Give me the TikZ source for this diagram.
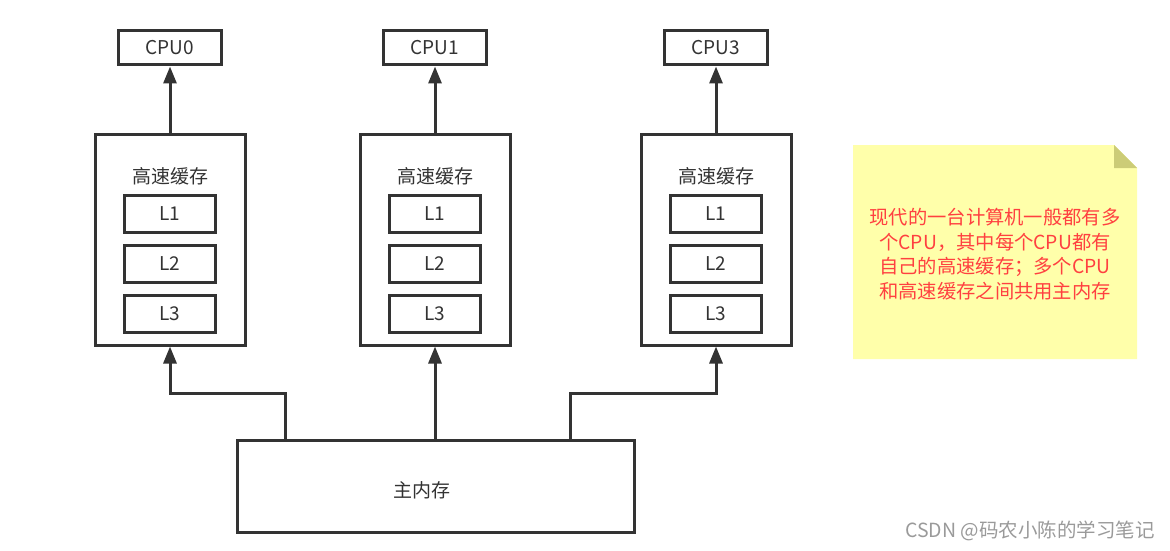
\documentclass[tikz,border=0pt]{standalone}
\usepackage{fontspec}
\setmainfont{Noto Sans CJK SC}
\usetikzlibrary{arrows.meta}
\definecolor{ln}{HTML}{333333}
\definecolor{notefill}{HTML}{FFFFAA}
\definecolor{notefold}{HTML}{CCCC77}
\definecolor{notetext}{HTML}{FF4040}
\definecolor{wm}{HTML}{9A9A9A}
\tikzset{
  box/.style={draw=ln, line width=3pt, fill=white, inner sep=0pt,
    font=\fontsize{19}{24}\selectfont, text=ln},
  cpubox/.style={box, minimum width=103pt, minimum height=34pt},
  cachebox/.style={box, minimum width=150pt, minimum height=211pt},
  lbox/.style={box, minimum width=91pt, minimum height=37pt},
  lbl/.style={font=\fontsize{19}{24}\selectfont, text=ln, inner sep=0pt},
  arr/.style={draw=ln, line width=3pt, -{Triangle[length=17pt,width=13pt]}},
}
\begin{document}
\begin{tikzpicture}[x=1pt,y=-1pt]
\useasboundingbox (0,0) rectangle (1170,551);
% CPUs
\node[cpubox] (cpu0) at (170,48) {CPU0};
\node[cpubox] (cpu1) at (435,48) {CPU1};
\node[cpubox] (cpu3) at (716,48) {CPU3};
% caches
\foreach \n/\x in {0/170,1/435,3/716}{
  \node[cachebox] (cache\n) at (\x,239.5) {};
  \node[lbl] (t\n) at (\x,176) {高速缓存};
  \node[lbox] (la\n) at (\x,213.5) {L1};
  \node[lbox] (lb\n) at (\x,263.5) {L2};
  \node[lbox] (lc\n) at (\x,313.5) {L3};
  \draw[arr] (cache\n.north) -- (cpu\n.south);
}
% main memory
\node[box, minimum width=397pt, minimum height=92pt] (mem) at (435.5,486) {};
\node[lbl] (memt) at (422,490) {主内存};
\coordinate (m0) at (285,393);
\coordinate (m3) at (570,393);
\draw[arr] (m0 |- mem.north) -- (m0) -| (cache0.south);
\draw[arr] (mem.north -| cache1.south) -- (cache1.south);
\draw[arr] (m3 |- mem.north) -- (m3) -| (cache3.south);
% note
\fill[notefill] (853,145) -- (1114,145) -- (1137,168) -- (1137,359) -- (853,359) -- cycle;
\fill[notefold] (1114,145) -- (1114,168) -- (1137,168) -- cycle;
\node[font=\fontsize{19.3}{24.5}\selectfont, text=notetext, align=center, inner sep=0pt] (note) at (995,254)
  {现代的一台计算机一般都有多\\个CPU，其中每个CPU都有\\自己的高速缓存；多个CPU\\和高速缓存之间共用主内存};
% watermark
\node[font=\fontsize{19.5}{21}\selectfont, text=wm, anchor=east, inner sep=0pt] (wmk) at (1155,531) {CSDN @码农小陈的学习笔记};
\end{tikzpicture}
\end{document}
